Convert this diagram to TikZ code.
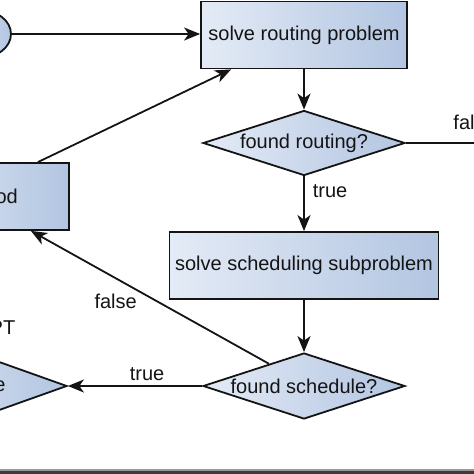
\documentclass[tikz,border=0pt]{standalone}
\usepackage{fontspec}
\setmainfont{Liberation Sans}
\usetikzlibrary{shapes.geometric,arrows.meta,calc}
\definecolor{fillL}{RGB}{228,235,246}
\definecolor{fillR}{RGB}{178,197,225}
\definecolor{ink}{RGB}{20,20,20}
\begin{document}
\begin{tikzpicture}[x=1pt,y=-1pt,font=\fontsize{20}{24}\selectfont,
  box/.style={draw=ink,line width=1.8pt,left color=fillL,right color=fillR,inner sep=0pt,text=ink},
  dia/.style={box,diamond,aspect=3},
  arr/.style={draw=ink,line width=1.8pt,-{Stealth[length=16pt,width=13pt,inset=4.5pt]}},
  conn/.style={draw=ink,line width=1.8pt},
  lbl/.style={inner sep=0pt,text=ink}]
\useasboundingbox (0,0) rectangle (474,474);
\clip (0,0) rectangle (474,474);
% nodes
\node[box,ellipse,minimum width=62pt,minimum height=48pt] (start) at (-20,34) {};
\node[box,minimum width=206pt,minimum height=67pt] (routing) at (304,35) {\raisebox{-3pt}{solve routing problem}};
\node[dia,minimum width=202pt,minimum height=65pt] (fr) at (304,143) {\raisebox{-3pt}{\makebox[0pt]{found routing?}}};
\node[box,minimum width=269pt,minimum height=67pt] (sched) at (304,265.5) {\raisebox{-2pt}{solve scheduling subproblem}};
\node[dia,minimum width=202pt,minimum height=66pt] (fs) at (304,386) {\makebox[0pt]{found schedule?}};
\node[box,minimum width=169pt,minimum height=67pt] (od) at (-15.5,196.5) {method};
\node[dia,minimum width=184pt,minimum height=66pt] (ld) at (-25,386) {\makebox[0pt]{update}};
\node[lbl,anchor=east] (opt) at (15.5,328) {OPT};
\coordinate (frend) at (480,143);
% connectors
\draw[arr] (start.east) -- (start.east -| routing.west);
\draw[arr] (routing.south) -- (fr.north);
\draw[arr] (fr.south) -- node[lbl,right=8pt,pos=0.27]{true} (sched.north);
\draw[conn] (fr.east) -- node[lbl,pos=0.63,anchor=west,yshift=21pt]{false} (frend);
\draw[arr] (sched.south) -- (fs.north);
\draw[arr] (fs.west) -- node[lbl,above=4pt,pos=0.41]{true} (ld.east);
\draw[arr] ($(fs.west)!0.656!(fs.north)$) -- node[lbl,pos=0.644,yshift=-23pt]{false} ($(od.south east)+(-39,0)$);
\draw[arr] ($(od.north east)+(-32,0)$) -- ($(routing.south west)+(31,0)$);
% bottom band
\fill[black!40] (0,468.8) rectangle (474,470.6);
\fill[black!77] (0,470.6) rectangle (474,474);
\end{tikzpicture}
\end{document}
